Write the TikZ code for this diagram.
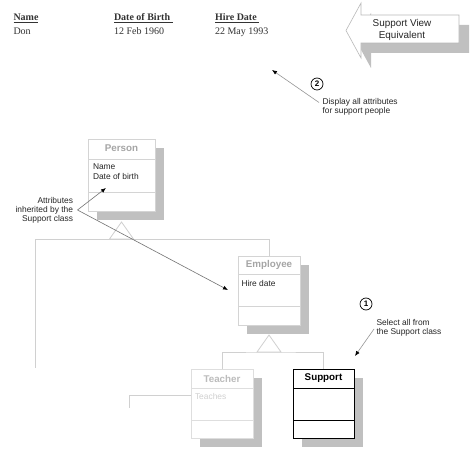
\documentclass[tikz,border=0pt]{standalone}
\usepackage{fontspec}
\setmainfont{Liberation Serif}
\setsansfont{Liberation Sans}
\usetikzlibrary{arrows.meta,shadows,calc}
\definecolor{shadowc}{RGB}{192,192,192}
\definecolor{boxc}{RGB}{212,212,212}
\definecolor{fadebox}{RGB}{222,222,222}
\definecolor{hdrc}{RGB}{165,165,165}
\definecolor{fadehdr}{RGB}{188,188,188}
\definecolor{fadetxt}{RGB}{208,208,208}
\definecolor{linkc}{RGB}{208,208,208}
\definecolor{callc}{RGB}{150,150,150}
\definecolor{inhc}{RGB}{115,115,115}
\definecolor{arrowc}{RGB}{185,185,185}
\begin{document}
\begin{tikzpicture}[x=1bp,y=-1bp,
  every node/.style={inner sep=0pt, outer sep=0pt},
  boxshadow/.style={drop shadow={shadow xshift=9bp, shadow yshift=-9bp, fill=shadowc, opacity=1}},
  classbox/.style={draw=boxc, fill=white, line width=0.8bp, anchor=north west, boxshadow},
  divline/.style={draw=boxc, line width=0.8bp},
  link/.style={draw=linkc, line width=0.8bp},
  hdr/.style={font=\sffamily\bfseries\fontsize{9.8bp}{11bp}\selectfont},
  small/.style={font=\sffamily\fontsize{8.4bp}{10bp}\selectfont, text=black!85},
  tbl/.style={font=\fontsize{10bp}{12bp}\selectfont, text=black!80, anchor=base west},
  callline/.style={draw=callc, line width=0.6bp, -{Latex[black,length=5bp,width=4bp]}},
  inhline/.style={draw=inhc, line width=0.6bp, -{Latex[black,length=5bp,width=4bp]}},
  numcirc/.style={circle, draw=black, fill=white, line width=0.7bp, minimum size=12bp, font=\sffamily\bfseries\fontsize{8bp}{8bp}\selectfont}
]
\fill[white] (0,0) rectangle (474,451);
\useasboundingbox (0,0) rectangle (474,451);

% ---- top table ----
\node[tbl] (hname) at (13.5,21) {\textbf{\underline{Name}}};
\node[tbl] (hdob) at (114,21) {\textbf{\underline{Date of Birth\ }}};
\node[tbl] (hhire) at (215,21) {\textbf{\underline{Hire Date\ }}};
\node[tbl] (vname) at (13.5,34.5) {Don};
\node[tbl] (vdob) at (114,34.5) {12 Feb 1960};
\node[tbl] (vhire) at (215,34.5) {22 May 1993};

% ---- Support View Equivalent arrow ----
\draw[draw=arrowc, fill=white, line width=0.6bp,
      drop shadow={shadow xshift=10bp, shadow yshift=-10bp, fill=shadowc, opacity=1}]
  (346,30.5) -- (361,3) -- (361,15) -- (459,15) -- (459,43) -- (361,43) -- (361,58) -- cycle;
\node[font=\sffamily\fontsize{9.9bp}{11.5bp}\selectfont, align=center, text=black!85] (svtext) at (402,30) {Support View\\Equivalent};

% ---- callout 2 ----
\node[numcirc] (c2) at (317,84) {2};
\node[small, anchor=base west] (c2t1) at (322.5,105) {Display all attributes};
\node[small, anchor=base west] (c2t2) at (322.5,114) {for support people};
\coordinate (c2from) at (319,102.5);
\coordinate (c2tip) at (272,70);
\draw[callline] (c2from) -- (c2tip);

% ---- Person ----
\node[classbox, minimum width=67bp, minimum height=72bp] (person) at (88,139) {};
\draw[divline] ([yshift=-20bp]person.north west) -- ([yshift=-20bp]person.north east);
\draw[divline] ([yshift=-53bp]person.north west) -- ([yshift=-53bp]person.north east);
\node[hdr, text=hdrc] (personhdr) at ($(person.north)+(0,9.5)$) {Person};
\node[small, anchor=base west] (pa1) at (93,169.5) {Name};
\node[small, anchor=base west] (pa2) at (93,179.5) {Date of birth};

% ---- Employee ----
\node[classbox, minimum width=62bp, minimum height=69bp] (empl) at (238,256) {};
\draw[divline] ([yshift=-18bp]empl.north west) -- ([yshift=-18bp]empl.north east);
\draw[divline] ([yshift=-50bp]empl.north west) -- ([yshift=-50bp]empl.north east);
\node[hdr, text=hdrc] (emplhdr) at ($(empl.north)+(0,9)$) {Employee};
\node[small, anchor=base west] (ea1) at (241.5,286.5) {Hire date};

% ---- Teacher ----
\node[classbox, draw=fadebox, minimum width=62bp, minimum height=69bp] (teacher) at (191,369) {};
\draw[divline, draw=fadebox] ([yshift=-19bp]teacher.north west) -- ([yshift=-19bp]teacher.north east);
\draw[divline, draw=fadebox] ([yshift=-51bp]teacher.north west) -- ([yshift=-51bp]teacher.north east);
\node[hdr, text=fadehdr] (teacherhdr) at ($(teacher.north)+(0,9.5)$) {Teacher};
\node[small, text=fadetxt, anchor=base west] (ta1) at (195,399) {Teaches};

% ---- Support ----
\node[classbox, draw=black, line width=1bp, minimum width=61bp, minimum height=69bp] (support) at (293,369) {};
\draw[black, line width=1bp] ([yshift=-19bp]support.north west) -- ([yshift=-19bp]support.north east);
\draw[black, line width=1bp] ([yshift=-51bp]support.north west) -- ([yshift=-51bp]support.north east);
\node[hdr, text=black] (supporthdr) at ($(support.north)+(0,9.5)$) {Support};

% ---- generalisation links ----
\coordinate (ptri) at ($(person.south)+(0,11)$);
\coordinate (pbar) at ($(ptri)+(0,17)$);
\draw[link, fill=white] (ptri) -- ++(-12,17) -- ++(24,0) -- cycle;
\coordinate (genleft) at (35,368);
\draw[link] (empl.north) |- (genleft |- pbar) -- (genleft);

\coordinate (etri) at ($(empl.south)+(0,10)$);
\coordinate (ebar) at ($(etri)+(0,17)$);
\draw[link, fill=white] (etri) -- ++(-12,17) -- ++(24,0) -- cycle;
\draw[link] (teacher.north) |- (ebar) -| (support.north);

\coordinate (tlstart) at ($(teacher.north west)+(0,26)$);
\coordinate (tleftend) at (129,408);
\draw[link] (tlstart) -| (tleftend);

% ---- inherited attributes note ----
\node[small, anchor=base east] (in1) at (73,204) {Attributes};
\node[small, anchor=base east] (in2) at (73,213) {inherited by the};
\node[small, anchor=base east] (in3) at (73,222) {Support class};
\coordinate (inhfrom) at (77.5,210);
\coordinate (inhtip1) at (106,188);
\coordinate (inhtip2) at (228,290);
\draw[inhline] (inhfrom) -- (inhtip1);
\draw[inhline] (inhfrom) -- (inhtip2);

% ---- callout 1 ----
\node[numcirc] (c1) at (366,304) {1};
\node[small, anchor=base west] (c1t1) at (376.5,325) {Select all from};
\node[small, anchor=base west] (c1t2) at (376.5,334) {the Support class};
\coordinate (c1from) at (374,329);
\coordinate (c1tip) at (355,356);
\draw[callline] (c1from) -- (c1tip);
\end{tikzpicture}
\end{document}
